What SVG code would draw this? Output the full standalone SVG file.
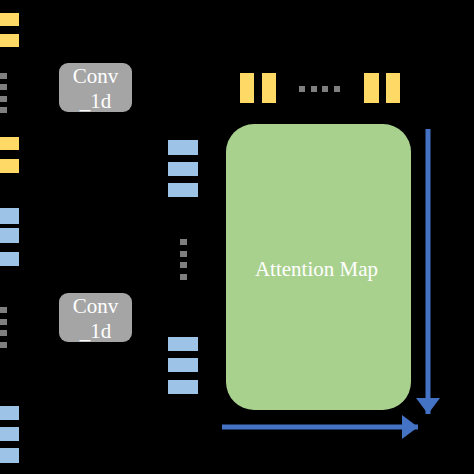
<svg xmlns="http://www.w3.org/2000/svg" width="474" height="474" viewBox="0 0 474 474">
<defs>
<style>
.y{fill:#ffd966}
.b{fill:#9dc3e6}
.g{fill:#7f7f7f}
.conv{fill:#a5a5a5}
.t{font-family:"Liberation Serif","Times New Roman",serif;fill:#ffffff}
.ln{stroke:#4472c4;stroke-width:5;fill:none}
</style>
<marker id="ah" markerUnits="userSpaceOnUse" markerWidth="16" markerHeight="24" refX="16" refY="12" orient="auto" viewBox="0 0 16 24">
<path d="M0,0 L16,12 L0,24 Z" fill="#4472c4"/>
</marker>
</defs>
<rect width="474" height="474" fill="#000000"/>
<g id="left-column">
<rect class="y" x="0" y="13" width="19" height="13"/>
<rect class="y" x="0" y="34" width="19" height="13"/>
<rect class="g" x="0" y="73" width="7" height="6"/>
<rect class="g" x="0" y="84" width="7" height="6"/>
<rect class="g" x="0" y="96" width="7" height="6"/>
<rect class="g" x="0" y="107" width="7" height="6"/>
<rect class="y" x="0" y="137" width="19" height="13"/>
<rect class="y" x="0" y="159" width="19" height="14"/>
<rect class="b" x="0" y="208" width="19" height="16"/>
<rect class="b" x="0" y="228" width="19" height="15"/>
<rect class="b" x="0" y="252" width="19" height="14"/>
<rect class="g" x="0" y="307" width="7" height="6"/>
<rect class="g" x="0" y="319" width="7" height="6"/>
<rect class="g" x="0" y="330" width="7" height="6"/>
<rect class="g" x="0" y="342" width="7" height="6"/>
<rect class="b" x="0" y="406" width="19" height="14"/>
<rect class="b" x="0" y="427" width="19" height="14"/>
<rect class="b" x="0" y="448" width="19" height="15"/>
</g>
<g id="conv1">
<rect class="conv" x="59" y="63" width="73" height="49" rx="9"/>
<text class="t" x="95.5" y="83" font-size="21" text-anchor="middle">Conv</text>
<text class="t" x="95.5" y="108" font-size="21" text-anchor="middle">_1d</text>
</g>
<g id="conv2">
<rect class="conv" x="59" y="293" width="73" height="49" rx="9"/>
<text class="t" x="95.5" y="313" font-size="21" text-anchor="middle">Conv</text>
<text class="t" x="95.5" y="338" font-size="21" text-anchor="middle">_1d</text>
</g>
<g id="mid-column">
<rect class="b" x="168" y="140" width="30" height="15"/>
<rect class="b" x="168" y="162" width="30" height="14"/>
<rect class="b" x="168" y="183" width="30" height="14"/>
<rect class="g" x="180" y="239" width="7" height="6"/>
<rect class="g" x="180" y="251" width="7" height="6"/>
<rect class="g" x="180" y="262" width="7" height="6"/>
<rect class="g" x="180" y="274" width="7" height="6"/>
<rect class="b" x="168" y="337" width="30" height="14"/>
<rect class="b" x="168" y="358" width="30" height="14"/>
<rect class="b" x="168" y="380" width="30" height="14"/>
</g>
<g id="top-row">
<rect class="y" x="240" y="73" width="14" height="30"/>
<rect class="y" x="262" y="73" width="14" height="30"/>
<rect class="g" x="299" y="86" width="6" height="6"/>
<rect class="g" x="311" y="86" width="6" height="6"/>
<rect class="g" x="322" y="86" width="6" height="6"/>
<rect class="g" x="334" y="86" width="6" height="6"/>
<rect class="y" x="364" y="73" width="15" height="30"/>
<rect class="y" x="386" y="73" width="14" height="30"/>
</g>
<g id="attention-map">
<rect x="226" y="124" width="185" height="286" rx="28" fill="#a9d18e"/>
<text class="t" x="316.5" y="276" font-size="21" text-anchor="middle">Attention Map</text>
</g>
<g id="connectors">
<line class="ln" x1="428" y1="129" x2="428" y2="414" marker-end="url(#ah)"/>
<line class="ln" x1="222" y1="427" x2="418" y2="427" stroke-width="6" marker-end="url(#ah)"/>
</g>
</svg>
